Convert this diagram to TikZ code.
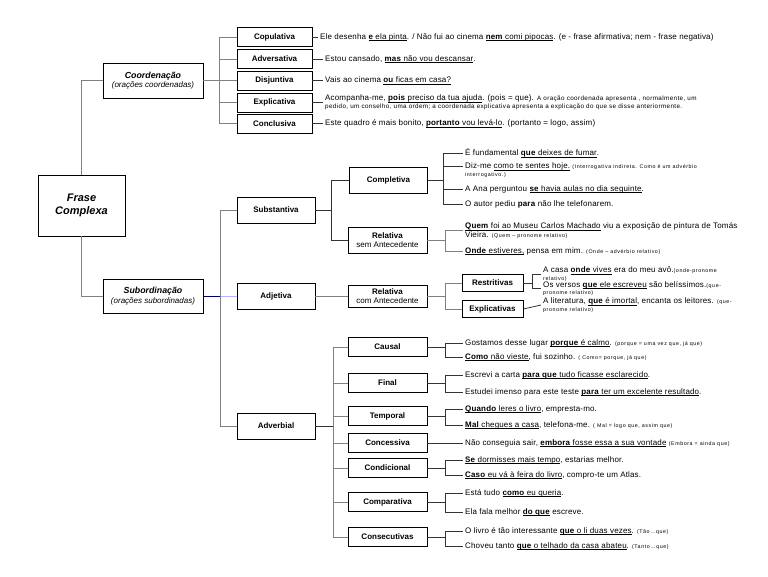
\documentclass[tikz,border=0pt]{standalone}
\usepackage{fontspec}
\setmainfont{Liberation Sans}
\usepackage{tikz}
\newcommand\grif[1]{{\setbox0\hbox{#1}\rlap{\rule[-1.8pt]{\wd0}{0.7pt}}\box0}}
\newcommand\nota[1]{{\fontsize{5.3}{6}\selectfont\addfontfeature{LetterSpace=11}#1}}
\newcommand\notb[1]{{\fontsize{6.3}{7}\selectfont\addfontfeature{LetterSpace=6}#1}}
\begin{document}
\begin{tikzpicture}[x=1pt,y=-1pt,
    bx/.style={draw,line width=0.9pt,minimum width=78pt,minimum height=19pt,inner sep=1pt,align=center,font=\fontsize{8}{9}\selectfont\bfseries},
    lk/.style={draw=black!50,line width=0.8pt},
    lkd/.style={draw=black!80,line width=0.8pt},
    tx/.style={anchor=west,inner sep=2pt,align=left,font=\fontsize{8}{9.5}\selectfont\addfontfeature{LetterSpace=2}}]
        \useasboundingbox (0,0) rectangle (768,576);
        \node[bx,minimum width=87pt,minimum height=61pt,font=\fontsize{11}{13}\selectfont\bfseries\itshape](frase)at(81.5,205.5){Frase\\Complexa};
        \node[bx,minimum width=100pt,minimum height=35pt,font=\fontsize{8}{9.5}\selectfont](coord)at(153,80.5){{\fontsize{8.8}{9.5}\selectfont\textbf{\textit{Coordenação}}}\\{\itshape(orações coordenadas)}};
        \node[bx,minimum width=100pt,minimum height=34pt,font=\fontsize{8}{9.5}\selectfont](subord)at(153,296){{\fontsize{8.8}{9.5}\selectfont\textbf{\textit{Subordinação}}}\\{\itshape(orações subordinadas)}};
        \draw[lk](frase.north)|-(coord.west);
        \draw[lk](frase.south)|-(subord.west);
        \coordinate(cb)at(219,80.5);
        \draw[lk](coord.east)--(cb);
        \foreach \n/\t/\y in {copul/Copulativa/37,adver/Adversativa/59,disj/Disjuntiva/80.5,expli/Explicativa/102.5,concl/Conclusiva/123.5}{
            \node[bx,minimum width=75pt](\n)at(274.5,\y){\t};
            \draw[lk](cb)|-(\n.west);
        }
        \node[tx](copul1)at(318,37){Ele desenha \grif{\textbf{e} ela pinta}. / Não fui ao cinema \grif{\textbf{nem} comi pipocas}. (e - frase afirmativa; nem - frase negativa)};
        \node[tx](adver1)at(323,59){Estou cansado, \grif{\textbf{mas} não vou descansar}.};
        \node[tx](disj1)at(323,80.5){Vais ao cinema \grif{\textbf{ou} ficas em casa?}};
        \node[tx](expli1)at(323,102.5){Acompanha-me, \grif{\textbf{pois} preciso da tua ajuda}. (pois = que). \notb{A oração coordenada apresenta , normalmente, um}\\[-1pt]\notb{pedido, um conselho, uma ordem; a coordenada explicativa apresenta a explicação do que se disse anteriormente.}};
        \node[tx](concl1)at(323,123.5){Este quadro é mais bonito, \grif{\textbf{portanto} vou levá-lo}. (portanto = logo, assim)};
        \foreach \n in {copul,adver,disj,expli,concl}
            \draw[lkd](\n.east)--(\n1.west);
        \coordinate(sb)at(220,296);
        \node[bx,minimum height=26pt](subst)at(276,210){Substantiva};
        \node[bx,minimum height=26pt](adje)at(276,296){Adjetiva};
        \node[bx,minimum height=26pt](adve)at(276,426){Adverbial};
        \draw[draw=blue!45!black,line width=0.8pt](subord.east)--(sb);
        \draw[draw=blue!30,line width=0.8pt](sb)--(adje.west);
        \draw[lk](sb)|-(subst.west);
        \draw[lk](sb)|-(adve.west);
        \node[bx,minimum height=26pt](compl)at(388.5,180){Completiva};
        \node[bx,minimum width=79pt,minimum height=26pt,font=\fontsize{8}{9.5}\selectfont](rsem)at(387.5,240){\textbf{Relativa}\\sem Antecedente};
        \node[bx,minimum width=79pt,minimum height=22pt,font=\fontsize{8}{9}\selectfont](rcom)at(387.5,296){\textbf{Relativa}\\com Antecedente};
        \draw[lkd](subst.east)--++(16,0)coordinate(k)|-(compl.west) (k)|-(rsem.west);
        \draw[lk](adje.east)--(rcom.west);
        \node[tx](compl1)at(463,153){É fundamental \grif{\textbf{que} deixes de fumar}.};
        \node[tx](compl2)at(463,170.5){Diz-me \grif{como te sentes hoje.} \nota{(Interrogativa indireta. Como é um advérbio}\\[-1.5pt]\nota{interrogativo.)}};
        \node[tx](compl3)at(463,189){A Ana perguntou \grif{\textbf{se} havia aulas no dia seguinte}.};
        \node[tx](compl4)at(463,204){O autor pediu \textbf{para} não lhe telefonarem.};
        \draw[lkd](compl.east)--++(15,0)coordinate(k)|-(compl1.west) (k)|-([yshift=4pt]compl2.west) (k)|-(compl3.west) (k)|-(compl4.west);
        \node[tx](rsem1)at(463,230.5){\grif{\textbf{Quem} foi ao Museu Carlos Machado} viu a exposição de pintura de Tomás\\[-1pt]Vieira. \nota{(Quem – pronome relativo)}};
        \node[tx](rsem2)at(463,251){\grif{\textbf{Onde} estiveres,} pensa em mim. \nota{(Onde – advérbio relativo)}};
        \draw[lk](rsem.east)--++(18,0)coordinate(k)|-(rsem1.west) (k)|-(rsem2.west);
        \node[bx,minimum width=61pt,minimum height=17pt](restr)at(492.5,283){Restritivas};
        \node[bx,minimum width=61pt,minimum height=17pt](expla)at(492.5,309){Explicativas};
        \draw[lk](rcom.east)--++(18,0)coordinate(k)|-(restr.west) (k)|-(expla.west);
        \node[tx](restr1)at(541,274){A casa \grif{\textbf{onde} vives} era do meu avô.\nota{(onde-pronome}\\[-2pt]\nota{relativo)}};
        \node[tx](restr2)at(541,288.5){Os versos \grif{\textbf{que} ele escreveu} são belíssimos.\nota{(que-}\\[-2pt]\nota{pronome relativo)}};
        \node[tx](expla1)at(541,305){A literatura, \grif{\textbf{que} é imortal}, encanta os leitores. \nota{(que-}\\[-2pt]\nota{pronome relativo)}};
        \draw[lkd](restr.east)--++(9,0)coordinate(k)|-(restr1.west) (k)|-(restr2.west);
        \draw[lkd](expla.east)--(expla1.west);
        \coordinate(ab)at(333,426);
        \draw[lkd](adve.east)--(ab);
        \foreach \n/\t/\y in {causa/Causal/347,final/Final/383,tempo/Temporal/416,conce/Concessiva/443,condi/Condicional/468,compa/Comparativa/502,conse/Consecutivas/537}{
            \node[bx,minimum width=79pt](\n)at(387.5,\y){\t};
            \draw[lk](ab)|-(\n.west);
        }
        \node[tx](causa1)at(463,343){Gostamos desse lugar \grif{\textbf{porque} é calmo}. \nota{(porque = uma vez que, já que)}};
        \node[tx](causa2)at(463,357){\grif{\textbf{Como} não vieste}, fui sozinho. \nota{( Como= porque, já que)}};
        \node[tx](final1)at(463,375){Escrevi a carta \grif{\textbf{para que} tudo ficasse esclarecido}.};
        \node[tx](final2)at(463,392){Estudei imenso para este teste \grif{\textbf{para} ter um excelente resultado}.};
        \node[tx](tempo1)at(463,409){\grif{\textbf{Quando} leres o livro}, empresta-mo.};
        \node[tx](tempo2)at(463,425){\grif{\textbf{Mal} chegues a casa}, telefona-me. \nota{( Mal = logo que, assim que)}};
        \node[tx](conce1)at(463,443){Não conseguia sair, \grif{\textbf{embora} fosse essa a sua vontade} \nota{(Embora = ainda que)}};
        \node[tx](condi1)at(463,460){\grif{\textbf{Se} dormisses mais tempo}, estarias melhor.};
        \node[tx](condi2)at(463,475){\grif{\textbf{Caso} eu vá à feira do livro}, compro-te um Atlas.};
        \node[tx](compa1)at(463,493){Está tudo \grif{\textbf{como} eu queria}.};
        \node[tx](compa2)at(463,512){Ela fala melhor \grif{\textbf{do que}} escreve.};
        \node[tx](conse1)at(463,531){O livro é tão interessante \grif{\textbf{que} o li duas vezes}. \nota{(Tão…que)}};
        \node[tx](conse2)at(463,546){Choveu tanto \grif{\textbf{que} o telhado da casa abateu}. \nota{(Tanto…que)}};
        \foreach \n in {causa,final,tempo,condi,compa,conse}
            \draw[lkd](\n.east)--++(18,0)coordinate(k)|-(\n1.west) (k)|-(\n2.west);
        \draw[lkd](conce.east)--(conce1.west);
\end{tikzpicture}
\end{document}
